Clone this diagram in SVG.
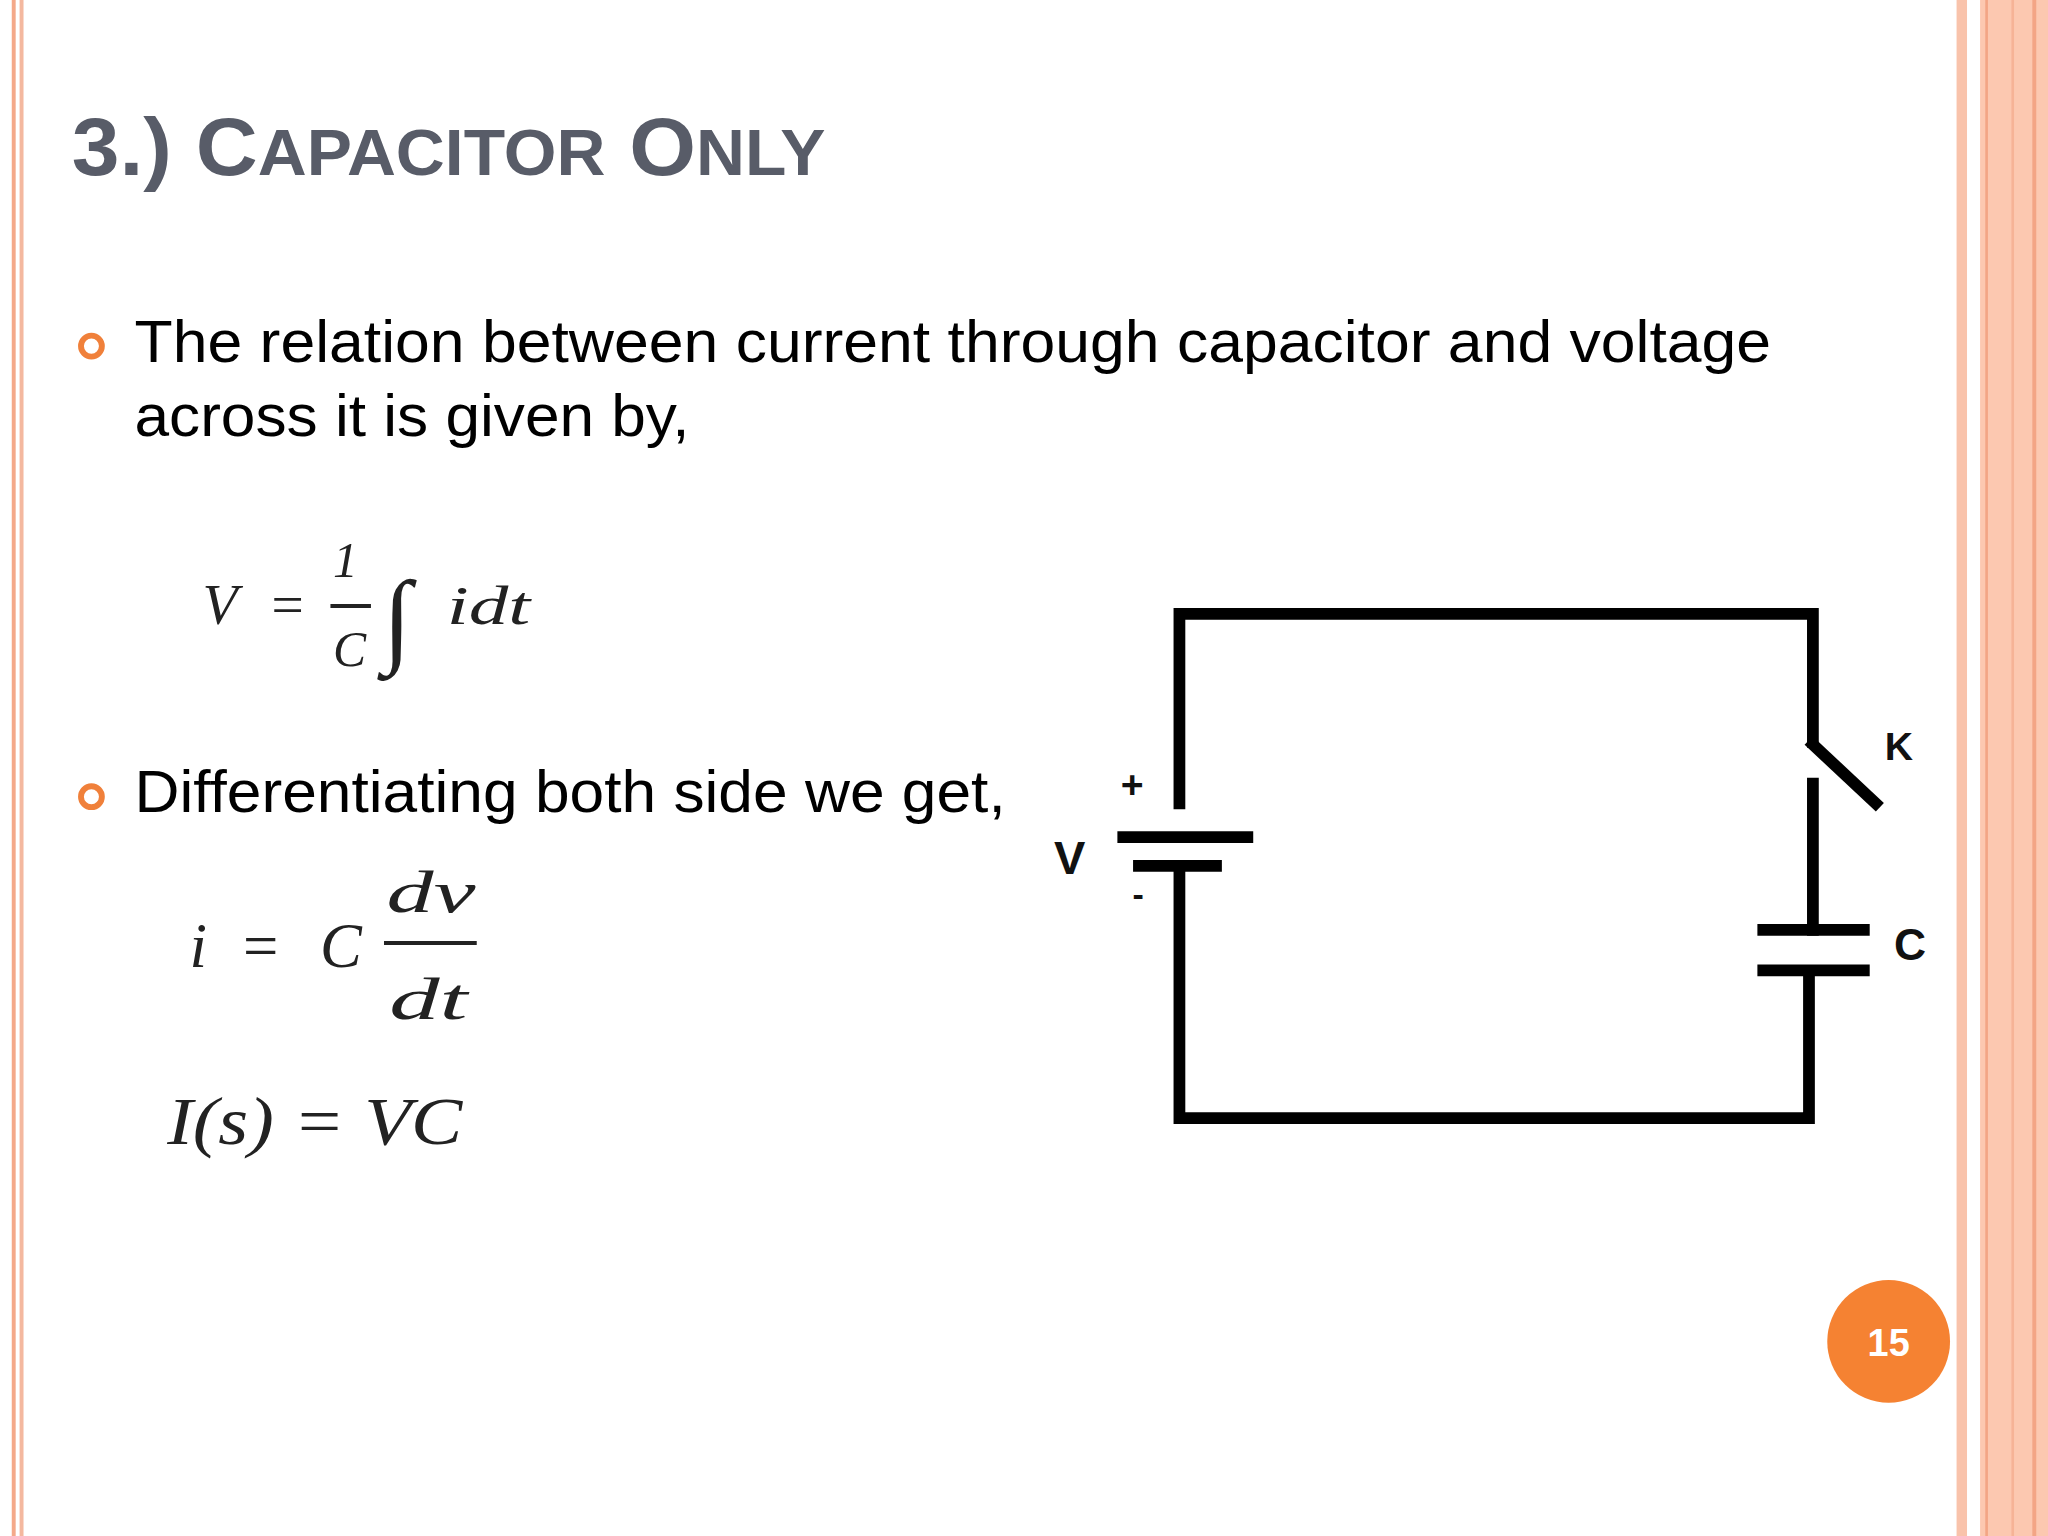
<svg xmlns="http://www.w3.org/2000/svg" width="2048" height="1536" viewBox="0 0 2048 1536">
<style>
.t{font-family:"Liberation Sans",Arial,sans-serif;fill:#000}
.m{font-family:"Liberation Serif","DejaVu Serif",serif;font-style:italic;fill:#222}
.w{stroke:#000;stroke-width:9;fill:none;stroke-linecap:square}
.lb{font-family:"Liberation Sans",Arial,sans-serif;font-weight:bold;fill:#111}
</style>
<rect width="2048" height="1536" fill="#fff"/>
<g transform="scale(1.306122)">
<g id="border">
<rect x="9" y="0" width="3" height="1176" fill="#f4a98a"/>
<rect x="15" y="0" width="3" height="1176" fill="#f4b89f"/>
<rect x="1498" y="0" width="8" height="1176" fill="#f9c3ab"/>
<rect x="1516" y="0" width="52" height="1176" fill="#fcc8b0"/>
<rect x="1520" y="0" width="2" height="1176" fill="#f3a585"/>
<rect x="1540" y="0" width="2" height="1176" fill="#f6b396"/>
<rect x="1556" y="0" width="3" height="1176" fill="#f3a585"/>
</g>
<g id="title"><text x="55" y="134" font-family="Liberation Sans,Arial,sans-serif" font-weight="bold" fill="#585c68" font-size="62" textLength="577" lengthAdjust="spacingAndGlyphs">3.) C<tspan font-size="49">APACITOR</tspan> O<tspan font-size="49">NLY</tspan></text></g>
<g id="bullets">
<circle cx="70" cy="265" r="8" fill="none" stroke="#f0803a" stroke-width="4.5"/>
<text class="t" x="103" y="277" font-size="46" textLength="1253" lengthAdjust="spacingAndGlyphs">The relation between current through capacitor and voltage</text>
<text class="t" x="103" y="334" font-size="46" textLength="425" lengthAdjust="spacingAndGlyphs">across it is given by,</text>
<circle cx="70" cy="610" r="8" fill="none" stroke="#f0803a" stroke-width="4.5"/>
<text class="t" x="103" y="622" font-size="46" textLength="667" lengthAdjust="spacingAndGlyphs">Differentiating both side we get,</text>
</g>
<g id="formulas">
<text class="m" x="155" y="478" font-size="44">V</text>
<text class="m" x="205" y="478" font-size="44" font-style="normal">=</text>
<text class="m" x="255" y="442" font-size="38" font-style="normal">1</text>
<line x1="253" y1="464" x2="284" y2="464" stroke="#222" stroke-width="3"/>
<text class="m" x="255" y="510" font-size="38">C</text>
<text class="m" x="293" y="500" font-size="80">∫</text>
<text class="m" x="342" y="478" font-size="42" textLength="64" lengthAdjust="spacingAndGlyphs">idt</text>
<text class="m" x="145" y="740" font-size="48">i</text>
<text class="m" x="183" y="740" font-size="48" font-style="normal">=</text>
<text class="m" x="245" y="740" font-size="48">C</text>
<text class="m" x="296" y="698" font-size="46" textLength="68" lengthAdjust="spacingAndGlyphs">dv</text>
<line x1="294" y1="722" x2="365" y2="722" stroke="#222" stroke-width="3"/>
<text class="m" x="298" y="780" font-size="46" textLength="60" lengthAdjust="spacingAndGlyphs">dt</text>
<text class="m" x="128" y="876" font-size="52" textLength="226" lengthAdjust="spacingAndGlyphs">I(s) = VC</text>
</g>
<g id="connectors">
<polyline class="w" points="903,615 903,470 1388,470 1388,568"/>
<line class="w" x1="1388" y1="570" x2="1436" y2="615"/>
<line class="w" x1="1388" y1="600" x2="1388" y2="712"/>
<polyline class="w" points="903,663 903,856 1385,856 1385,745"/>
</g>
<g id="battery">
<line class="w" x1="860" y1="641" x2="955" y2="641"/>
<line class="w" x1="872" y1="663" x2="931" y2="663"/>
</g>
<g id="capacitor">
<line class="w" x1="1350" y1="712" x2="1427" y2="712"/>
<line class="w" x1="1350" y1="743" x2="1427" y2="743"/>
</g>
<g id="labels">
<text class="lb" x="858" y="611" font-size="30">+</text>
<text class="lb" x="807" y="669" font-size="36">V</text>
<text class="lb" x="867" y="694" font-size="26">-</text>
<text class="lb" x="1443" y="582" font-size="30">K</text>
<text class="lb" x="1450" y="735" font-size="34">C</text>
</g>
<g id="page">
<circle cx="1446" cy="1027" r="47" fill="#f58232"/>
<text x="1446" y="1038" text-anchor="middle" font-family="Liberation Sans,Arial,sans-serif" font-weight="bold" font-size="29" fill="#fff">15</text>
</g>
</g>
</svg>
